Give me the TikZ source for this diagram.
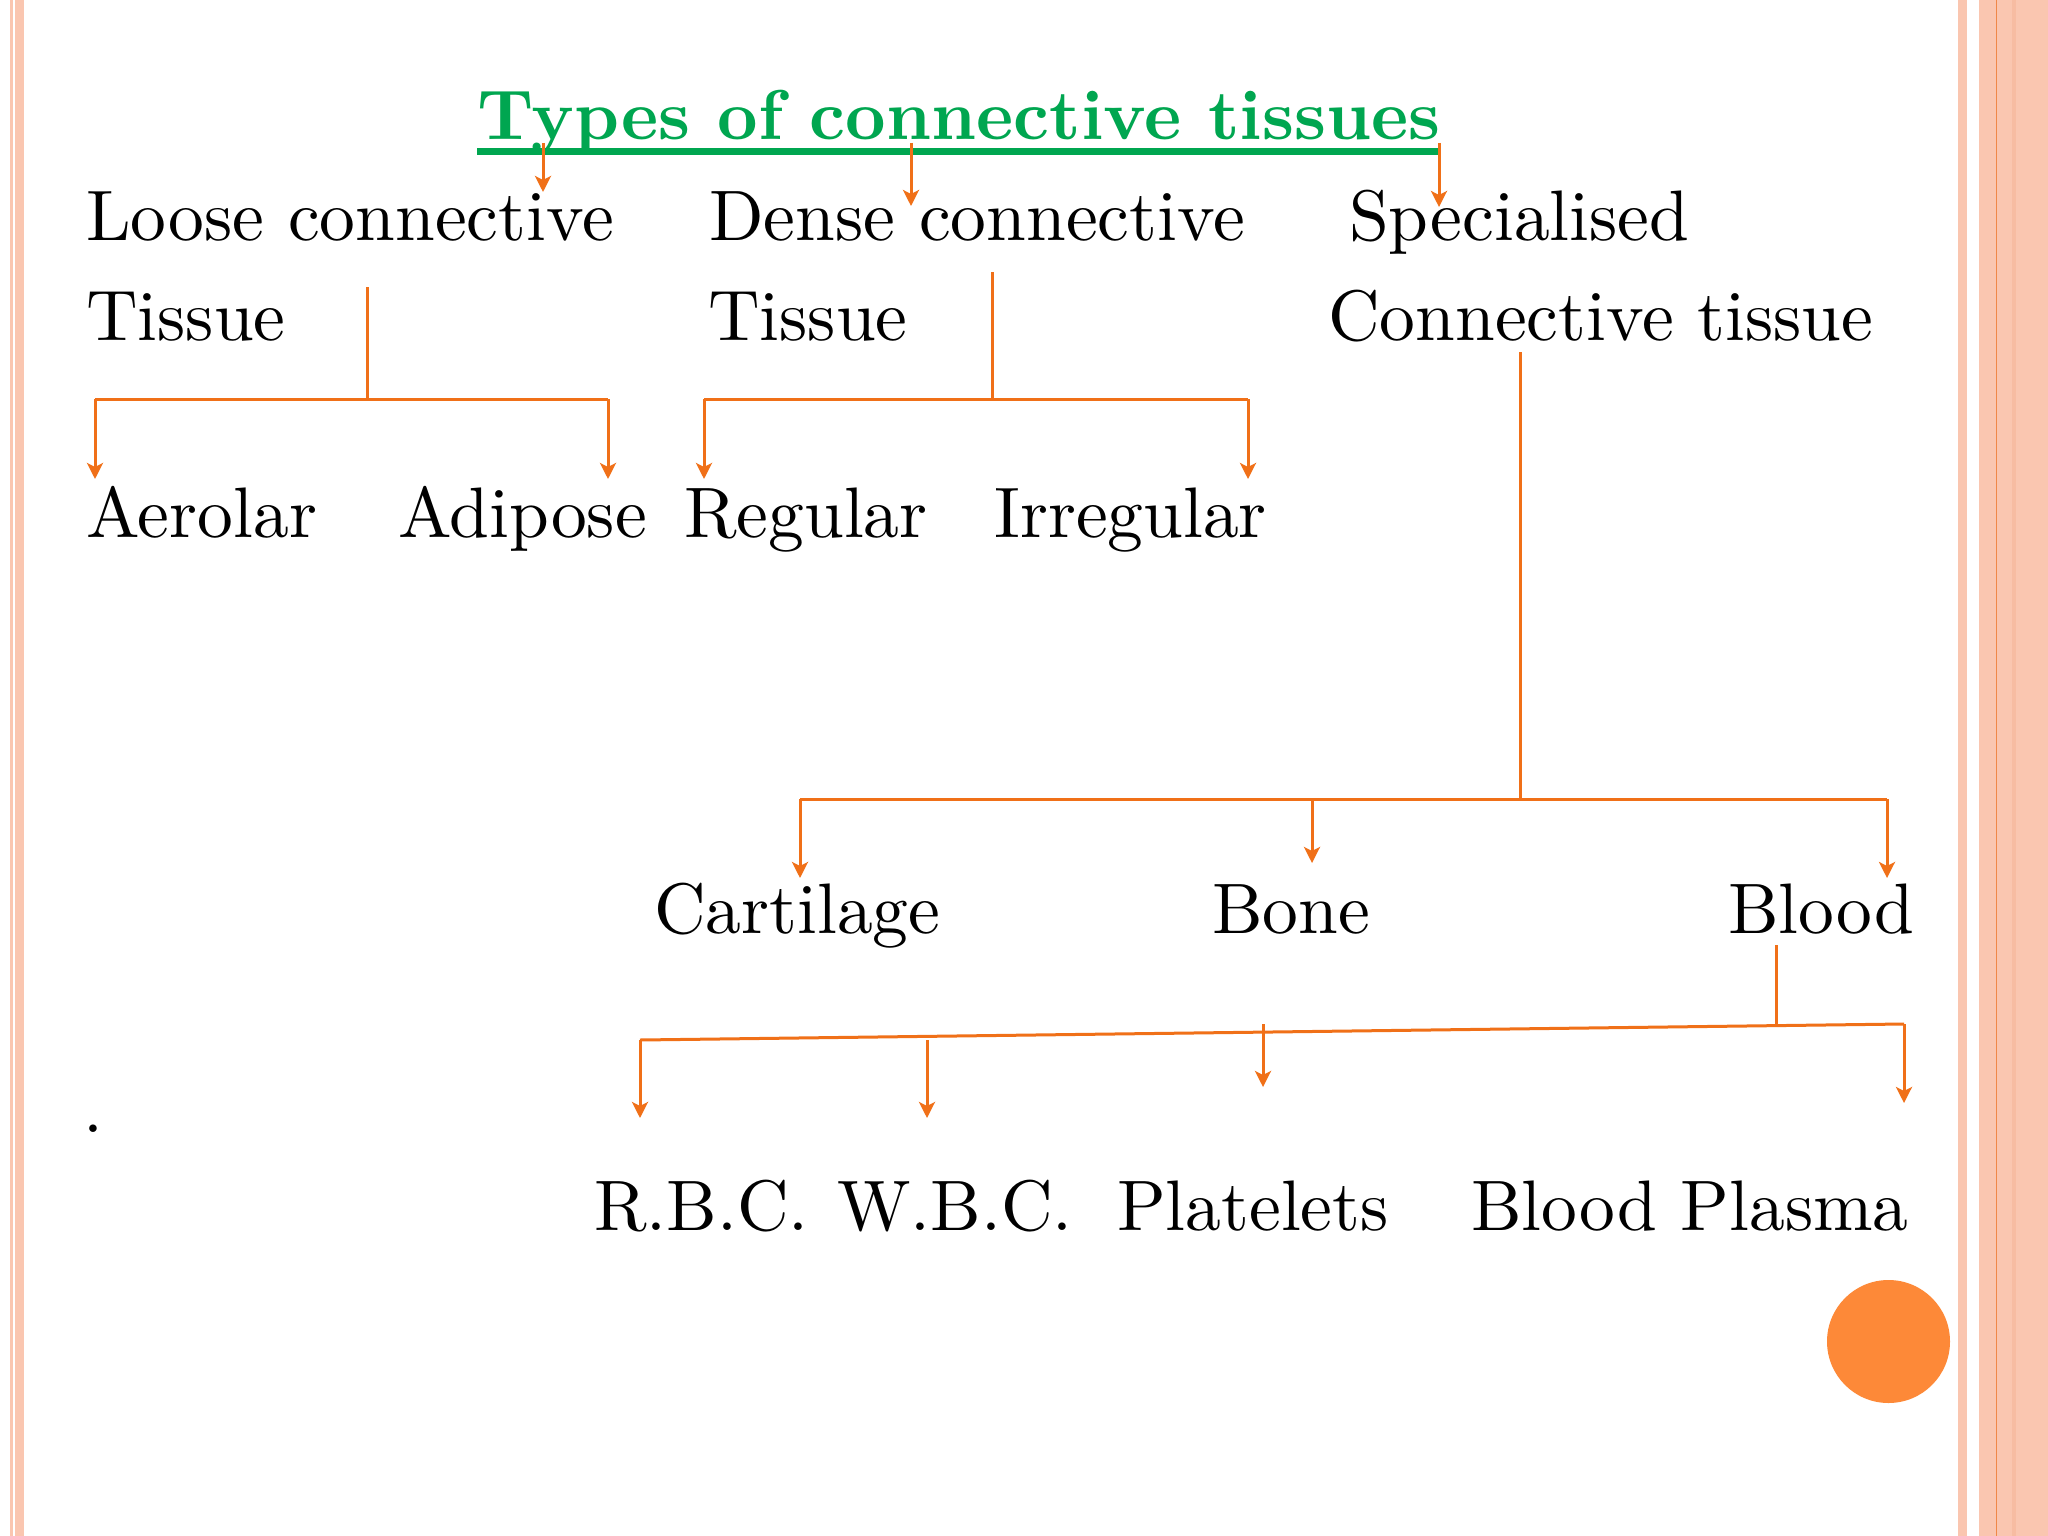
\documentclass[tikz,border=0pt]{standalone}
\usepackage{fontspec}
\setmainfont{lmroman10}[Extension=.otf,UprightFont=*-regular,BoldFont=*-bold,ItalicFont=*-italic,BoldItalicFont=*-bolditalic]
\usetikzlibrary{arrows.meta}
\definecolor{tgreen}{RGB}{0,166,80}
\definecolor{lorange}{RGB}{240,112,24}
\definecolor{bpink}{RGB}{250,198,176}
\definecolor{bpinkdark}{RGB}{247,188,162}
\definecolor{bline}{RGB}{240,136,72}
\definecolor{dotorange}{RGB}{253,137,56}
\tikzset{
 lbl/.style={anchor=base west, inner sep=0pt, font=\fontsize{71.5}{80}\selectfont},
 ttl/.style={anchor=base west, inner sep=0pt, text=tgreen, font=\fontsize{70.5}{80}\selectfont\bfseries},
 ln/.style={draw=lorange, line width=3pt},
 arr/.style={ln, -{Stealth[length=16pt,width=16pt,inset=4pt]}},
}
\begin{document}
\begin{tikzpicture}[x=1pt,y=-1pt]
\useasboundingbox (0,0) rectangle (2048,1536);
\fill[white] (0,0) rectangle (2048,1536);
% borders
\fill[bpink] (10,0) rectangle (13,1536);
\fill[bpink] (15,0) rectangle (24,1536);
\fill[bpink] (1958,0) rectangle (1967,1536);
\fill[bpink] (1979,0) rectangle (2048,1536);
\fill[bpinkdark] (2012,0) rectangle (2016,1536);
\draw[bline, line width=1.5pt] (1996.5,0) -- (1996.5,1536);
\fill[dotorange] (1888.5,1341.5) circle (61.5);
% title
\node[ttl] (title) at (477,140) {Types of connective tissues};
\draw[tgreen, line width=7pt] ([yshift=-11.5pt]title.base west) -- ([yshift=-11.5pt]title.base east);
% level 1
\node[lbl] (loose1) at (86,240) {Loose connective};
\node[lbl] (loose2) at (86,340) {Tissue};
\node[lbl] (dense1) at (709,240) {Dense connective};
\node[lbl] (dense2) at (708,340) {Tissue};
\node[lbl] (spec1) at (1349,240) {Specialised};
\node[lbl] (spec2) at (1328,340) {Connective tissue};
% level 2
\node[lbl] (aerolar) at (86,537) {Aerolar};
\node[lbl] (adipose) at (398,537) {Adipose};
\node[lbl] (regular) at (684,537) {Regular};
\node[lbl] (irregular) at (994,537) {Irregular};
\node[lbl] (cartilage) at (654,933) {Cartilage};
\node[lbl] (bone) at (1212,933) {Bone};
\node[lbl] (blood) at (1728,933) {Blood};
% level 3
\node[lbl] (rbc) at (594,1230) {R.B.C.};
\node[lbl] (wbc) at (837,1230) {W.B.C.};
\node[lbl] (platelets) at (1117,1230) {Platelets};
\node[lbl] (plasma) at (1471,1230) {Blood Plasma};
\node[lbl] (dot) at (83,1132) {.};
% title arrows
\coordinate (ta1) at (543,143);
\coordinate (ta2) at (911,143);
\coordinate (ta3) at (1439,143);
\draw[arr] (ta1) -- (543,192);
\draw[arr] (ta2) -- (911,206);
\draw[arr] (ta3) -- (1439,207);
% loose tree
\coordinate (lt) at (367,287);
\coordinate (lj) at (367,399);
\coordinate (ll) at (95,399);
\coordinate (lr) at (608,399);
\draw[ln] (lt) -- (lj);
\draw[ln] (ll) -- (lr);
\draw[arr] (ll) -- (95,479);
\draw[arr] (lr) -- (608,479);
% dense tree
\coordinate (dt) at (992,272);
\coordinate (dj) at (992,399);
\coordinate (dl) at (704,399);
\coordinate (dr) at (1248,399);
\draw[ln] (dt) -- (dj);
\draw[ln] (dl) -- (dr);
\draw[arr] (dl) -- (704,479);
\draw[arr] (dr) -- (1248,479);
% specialised tree
\coordinate (st) at (1520,352);
\coordinate (sj) at (1520,799);
\coordinate (sl) at (800,799);
\coordinate (sm) at (1312,799);
\coordinate (sr) at (1887,799);
\draw[ln] (st) -- (sj);
\draw[ln] (sl) -- (sr);
\draw[arr] (sl) -- (800,878);
\draw[arr] (sm) -- (1312,863);
\draw[arr] (sr) -- (1887,878);
% blood tree
\coordinate (bt) at (1776,945);
\coordinate (bj) at (1776,1026);
\coordinate (bl) at (640,1040);
\coordinate (br) at (1904,1024);
\draw[ln] (bt) -- (bj);
\draw[ln] (bl) -- (br);
\draw[arr] (bl) -- (640,1118);
\draw[arr] (927,1040) -- (927,1118);
\draw[arr] (1263,1024) -- (1263,1087);
\draw[arr] (br) -- (1904,1103);
\end{tikzpicture}
\end{document}
